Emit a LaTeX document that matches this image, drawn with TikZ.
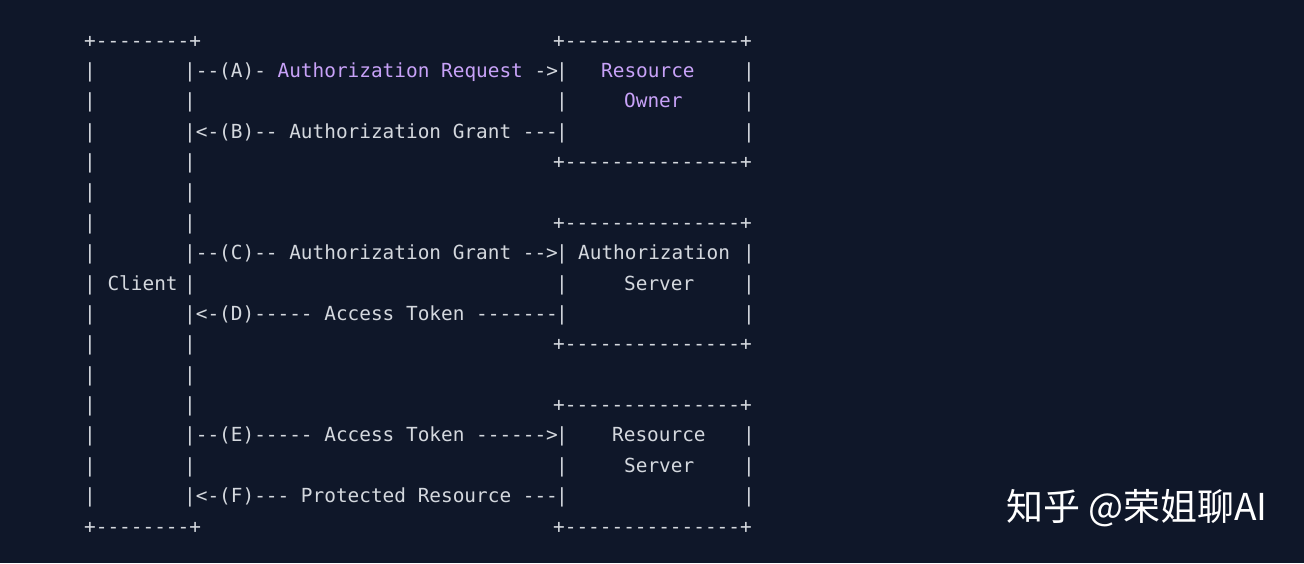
\documentclass[tikz,border=0pt]{standalone}
\usepackage{fontspec}
\setmonofont{DejaVu Sans Mono}
\newfontfamily\cjk{Noto Sans CJK SC}
\definecolor{bg}{HTML}{0F1729}
\definecolor{fg}{HTML}{D4D8DE}
\definecolor{pu}{HTML}{C8A2F8}
\begin{document}
\begin{tikzpicture}[x=1pt,y=-1pt,
  t/.style={anchor=base west,inner sep=0pt,text=fg,font=\ttfamily\fontsize{19.4}{20}\selectfont}]
\fill[bg] (0,0) rectangle (1304,563);
\useasboundingbox (0,0) rectangle (1304,563);
\def\L#1#2{\node[t] (l#1) at (84,{47+30.375*#1}) {#2};}
\def\M#1#2{\node[t] (m#1) at (184,{47+30.375*#1}) {#2};}
\L{0}{+-{}-{}-{}-{}-{}-{}-{}-+}
\foreach \i in {1,...,15} {\ifnum\i=8\else\L{\i}{|}\fi}
\node[t] (c8) at (84,{47+30.375*8}) {|\ Client};
\foreach \i in {2,4,5,6,8,10,11,12,14} {\M{\i}{|}}
\L{16}{+-{}-{}-{}-{}-{}-{}-{}-+}
\node[t] (a1) at (184,{47+30.375*1}) {|-{}-(A)- \textcolor{pu}{Authorization Request} -{}>};
\node[t] (a3) at (184,{47+30.375*3}) {|<-(B)-{}- Authorization Grant -{}-{}-};
\node[t] (a7) at (184,{47+30.375*7}) {|-{}-(C)-{}- Authorization Grant -{}->};
\node[t] (a9) at (184,{47+30.375*9}) {|<-(D)-{}-{}-{}-{}- Access Token -{}-{}-{}-{}-{}-{}-};
\node[t] (a13) at (184,{47+30.375*13}) {|-{}-(E)-{}-{}-{}-{}- Access Token -{}-{}-{}-{}-{}->};
\node[t] (a15) at (184,{47+30.375*15}) {|<-(F)-{}-{}- Protected Resource -{}-{}-};
\foreach \i in {0,4,6,10,12,16} {\node[t] (b\i) at (553,{47+30.375*\i}) {+-{}-{}-{}-{}-{}-{}-{}-{}-{}-{}-{}-{}-{}-{}-+};}
\foreach \i in {1,2,3,7,8,9,13,14,15} {\node[t] (rb\i) at (556,{47+30.375*\i}) {|\hspace{15\fontcharwd\font`x}|};}
\node[t,text=pu] (ro1) at (601,{47+30.375*1}) {Resource};
\node[t,text=pu] (ro2) at (624,{47+30.375*2}) {Owner};
\node[t] (as1) at (578,{47+30.375*7}) {Authorization};
\node[t] (as2) at (624,{47+30.375*8}) {Server};
\node[t] (rs1) at (612,{47+30.375*13}) {Resource};
\node[t] (rs2) at (624,{47+30.375*14}) {Server};
\node[anchor=base east,inner sep=0pt,text=white,font=\cjk\fontsize{37}{38}\selectfont] (wm) at (1268,520) {知乎 @荣姐聊AI};
\end{tikzpicture}
\end{document}
